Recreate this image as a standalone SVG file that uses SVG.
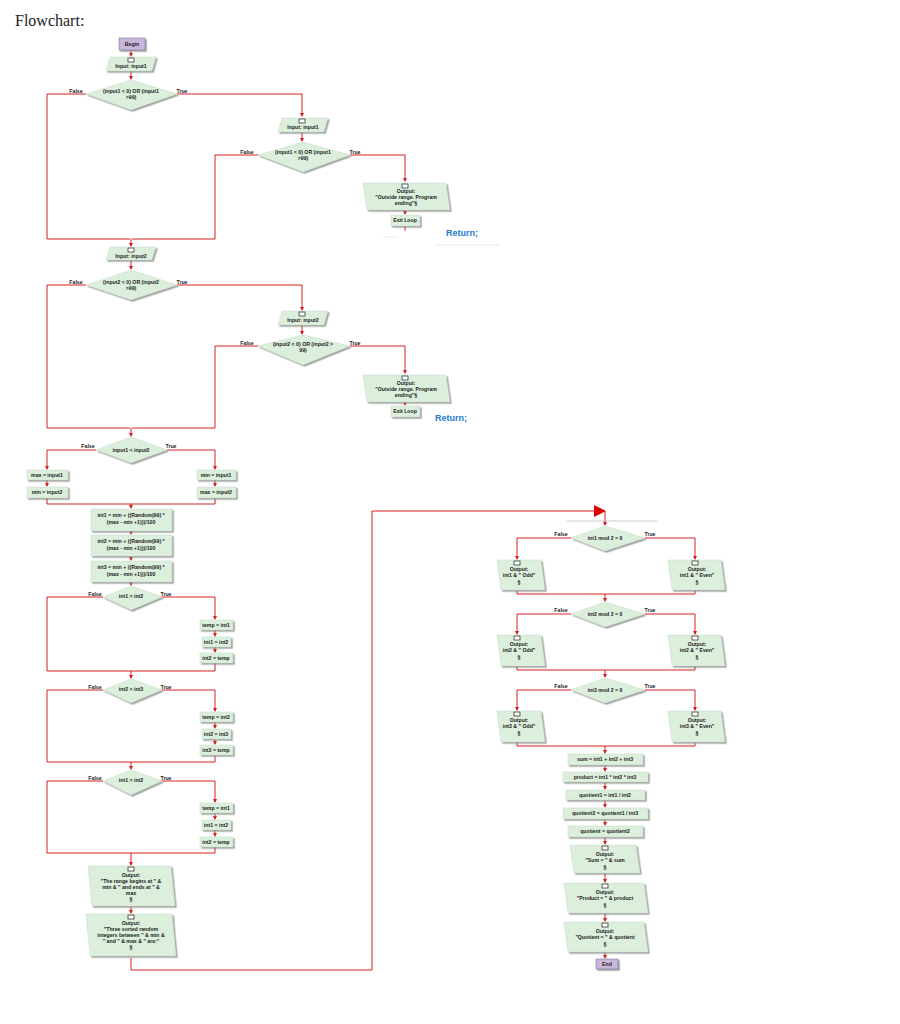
<svg xmlns="http://www.w3.org/2000/svg" width="900" height="1024" viewBox="0 0 900 1024">
<style>
.n{fill:#dcefdc;stroke:#c8d8c8;stroke-width:0.5;filter:url(#sh)}
.b{fill:#c9b6dd;stroke:#8a7aa8;stroke-width:0.6;filter:url(#sh)}
.io{fill:#fff;stroke:#222;stroke-width:0.7}
text{font-family:"Liberation Sans",Arial,sans-serif;font-size:5.2px;font-weight:bold;fill:#222;text-anchor:middle}
.l{text-anchor:start}
.c path,.c line,.c polyline{fill:none;stroke:#d42020;stroke-width:1}
.ret{fill:#1e7ad6;font-size:9px;text-anchor:start}
</style>
<defs>
<filter id="sh" x="-20%" y="-20%" width="150%" height="160%"><feDropShadow dx="1.5" dy="1.5" stdDeviation="0.6" flood-color="#888" flood-opacity="0.8"/></filter>
<marker id="a" markerWidth="4" markerHeight="4" refX="3" refY="2" orient="auto" markerUnits="userSpaceOnUse"><path d="M0,0L4,2L0,4z" fill="#d42020"/></marker>
<marker id="big" markerWidth="12" markerHeight="12" refX="10" refY="6" orient="auto" markerUnits="userSpaceOnUse"><path d="M0,0L12,6L0,12z" fill="#e00000"/></marker>
</defs>
<rect width="900" height="1024" fill="#fff"/>
<text x="15" y="26" class="l" style="font-family:'Liberation Serif',serif;font-size:16px;font-weight:normal">Flowchart:</text>

<g class="c">
<polyline points="131,50 131,56" marker-end="url(#a)"/>
<polyline points="131,71 131,79" marker-end="url(#a)"/>
<polyline points="86,94 47,94 47,239 130,239" />
<polyline points="177,94 302,94 302,116" marker-end="url(#a)"/>
<polyline points="302,132 302,141" marker-end="url(#a)"/>
<polyline points="258,155 215,155 215,239 132,239"/>
<polyline points="350,155 405,155 405,181" marker-end="url(#a)"/>
<polyline points="405,210 405,214" marker-end="url(#a)"/>
<line x1="405" y1="226" x2="405" y2="231"/>
<polyline points="131,239 131,246" marker-end="url(#a)"/>
<polyline points="131,260 131,269" marker-end="url(#a)"/>
<polyline points="86,285 47,285 47,428 130,428"/>
<polyline points="177,285 302,285 302,310" marker-end="url(#a)"/>
<polyline points="302,325 302,334" marker-end="url(#a)"/>
<polyline points="258,346 215,346 215,428 132,428"/>
<polyline points="350,346 405,346 405,373" marker-end="url(#a)"/>
<polyline points="405,402 405,405" marker-end="url(#a)"/>
<polyline points="131,428 131,436" marker-end="url(#a)"/>
<polyline points="96,450 47,450 47,469" marker-end="url(#a)"/>
<polyline points="167,450 215,450 215,469" marker-end="url(#a)"/>
<polyline points="47,480 47,486" marker-end="url(#a)"/>
<polyline points="215,480 215,486" marker-end="url(#a)"/>
<polyline points="47,498 47,504 215,504 215,498"/>
<polyline points="131,504 131,508" marker-end="url(#a)"/>
<polyline points="131,531 131,534" marker-end="url(#a)"/>
<polyline points="131,556 131,560" marker-end="url(#a)"/>
<polyline points="131,582 131,585" marker-end="url(#a)"/>
<polyline points="103,597 47,597 47,671 215,671 215,663"/>
<polyline points="162,597 215,597 215,619" marker-end="url(#a)"/>
<polyline points="215,630 215,636" marker-end="url(#a)"/>
<polyline points="215,647 215,652" marker-end="url(#a)"/>
<polyline points="131,671 131,678" marker-end="url(#a)"/>
<polyline points="103,690 47,690 47,762 215,762 215,755"/>
<polyline points="162,690 215,690 215,711" marker-end="url(#a)"/>
<polyline points="215,722 215,728" marker-end="url(#a)"/>
<polyline points="215,739 215,744" marker-end="url(#a)"/>
<polyline points="131,762 131,769" marker-end="url(#a)"/>
<polyline points="103,781 47,781 47,853 215,853 215,847"/>
<polyline points="162,781 215,781 215,802" marker-end="url(#a)"/>
<polyline points="215,813 215,819" marker-end="url(#a)"/>
<polyline points="215,830 215,836" marker-end="url(#a)"/>
<polyline points="131,853 131,865" marker-end="url(#a)"/>
<polyline points="131,905 131,913" marker-end="url(#a)"/>
<polyline points="131,958 131,970 372,970 372,511 604,511" marker-end="url(#big)"/>
<polyline points="605,511 605,525" marker-end="url(#a)"/>
<polyline points="571,538 517,538 517,559" marker-end="url(#a)"/>
<polyline points="645,538 695,538 695,559" marker-end="url(#a)"/>
<polyline points="517,590 517,594 695,594 695,590"/>
<polyline points="605,594 605,601" marker-end="url(#a)"/>
<polyline points="571,614 517,614 517,634" marker-end="url(#a)"/>
<polyline points="645,614 695,614 695,634" marker-end="url(#a)"/>
<polyline points="517,666 517,670 695,670 695,666"/>
<polyline points="605,670 605,677" marker-end="url(#a)"/>
<polyline points="571,690 517,690 517,710" marker-end="url(#a)"/>
<polyline points="645,690 695,690 695,710" marker-end="url(#a)"/>
<polyline points="517,742 517,746 695,746 695,742"/>
<polyline points="605,746 605,753" marker-end="url(#a)"/>
<polyline points="605,765 605,771" marker-end="url(#a)"/>
<polyline points="605,782 605,789" marker-end="url(#a)"/>
<polyline points="605,800 605,807" marker-end="url(#a)"/>
<polyline points="605,819 605,825" marker-end="url(#a)"/>
<polyline points="605,837 605,844" marker-end="url(#a)"/>
<polyline points="605,873 605,882" marker-end="url(#a)"/>
<polyline points="605,913 605,921" marker-end="url(#a)"/>
<polyline points="605,952 605,958" marker-end="url(#a)"/>
</g>
<line x1="567" y1="521" x2="657" y2="521" stroke="#aaa" stroke-width="0.6"/>
<line x1="383" y1="237" x2="398" y2="237" stroke="#ddd" stroke-width="0.6"/>
<line x1="435" y1="245" x2="500" y2="245" stroke="#ddd" stroke-width="0.6"/>

<g id="begin"><rect class="b" x="119" y="38" width="26" height="12"/><text x="132" y="46">Begin</text></g>
<g id="in1"><polygon class="n" points="110,57 156,57 152,71 106,71"/><rect class="io" x="128" y="58" width="6" height="4"/><text x="131" y="68">Input: input1</text></g>
<g id="d1"><polygon class="n" points="131,80 177,94 131,110 86,94"/><text x="131" y="93">(input1 &lt; 0) OR (input1</text><text x="131" y="99">&gt;99)</text><text x="76" y="93">False</text><text x="182" y="93">True</text></g>
<g id="in1b"><polygon class="n" points="282,118 328,118 324,132 278,132"/><rect class="io" x="299" y="119" width="6" height="4"/><text x="303" y="129">Input: input1</text></g>
<g id="d2"><polygon class="n" points="303,142 350,155 303,172 258,155"/><text x="303" y="154">(input1 &lt; 0) OR (input1</text><text x="303" y="160">&gt;99)</text><text x="247" y="154">False</text><text x="355" y="154">True</text></g>
<g id="out1"><polygon class="n" points="363,183 446,183 450,210 367,210"/><rect class="io" x="402" y="184" width="6" height="4"/><text x="406" y="193">Output:</text><text x="406" y="199">"Outside range.  Program</text><text x="406" y="205">ending"§</text></g>
<g id="exit1"><rect class="n" x="391" y="215" width="29" height="11"/><text x="405" y="222">Exit Loop</text></g>
<text x="446" y="236" class="ret">Return;</text>

<g id="in2"><polygon class="n" points="110,247 156,247 152,260 106,260"/><rect class="io" x="128" y="248" width="6" height="4"/><text x="131" y="258">Input: input2</text></g>
<g id="d3"><polygon class="n" points="131,270 177,285 131,300 86,285"/><text x="131" y="284">(input2 &lt; 0) OR (input2</text><text x="131" y="290">&gt;99)</text><text x="76" y="284">False</text><text x="182" y="284">True</text></g>
<g id="in2b"><polygon class="n" points="282,311 328,311 324,325 278,325"/><rect class="io" x="299" y="312" width="6" height="4"/><text x="303" y="322">Input: input2</text></g>
<g id="d4"><polygon class="n" points="303,335 350,346 303,365 258,346"/><text x="303" y="346">(input2 &lt; 0) OR (input2 &gt;</text><text x="303" y="352">99)</text><text x="247" y="345">False</text><text x="355" y="345">True</text></g>
<g id="out2"><polygon class="n" points="363,375 446,375 450,402 367,402"/><rect class="io" x="402" y="376" width="6" height="4"/><text x="406" y="385">Output:</text><text x="406" y="391">"Outside range.  Program</text><text x="406" y="397">ending"§</text></g>
<g id="exit2"><rect class="n" x="391" y="406" width="29" height="11"/><text x="405" y="413">Exit Loop</text></g>
<text x="435" y="421" class="ret">Return;</text>

<g id="d5"><polygon class="n" points="131,437 167,450 131,463 96,450"/><text x="131" y="452">input1 &lt; input2</text><text x="88" y="448">False</text><text x="171" y="448">True</text></g>
<g id="mx1"><rect class="n" x="27" y="470" width="41" height="10"/><text x="47" y="477">max = input1</text></g>
<g id="mn1"><rect class="n" x="27" y="487" width="41" height="11"/><text x="47" y="494">min = input2</text></g>
<g id="mn2"><rect class="n" x="197" y="470" width="39" height="10"/><text x="216" y="477">min = input1</text></g>
<g id="mx2"><rect class="n" x="197" y="487" width="39" height="11"/><text x="216" y="494">max = input2</text></g>
<g id="i1"><rect class="n" x="91" y="509" width="81" height="22"/><text x="131" y="517">int1 = min + ((Random(99) *</text><text x="131" y="524">(max - min +1)))/100</text></g>
<g id="i2"><rect class="n" x="91" y="535" width="81" height="21"/><text x="131" y="543">int2 = min + ((Random(99) *</text><text x="131" y="550">(max - min +1)))/100</text></g>
<g id="i3"><rect class="n" x="91" y="561" width="81" height="21"/><text x="131" y="569">int3 = min + ((Random(99) *</text><text x="131" y="576">(max - min +1)))/100</text></g>

<g id="d6"><polygon class="n" points="131,586 162,597 131,610 103,597"/><text x="131" y="598">int1 &gt; int2</text><text x="95" y="596">False</text><text x="166" y="596">True</text></g>
<g id="s1"><rect class="n" x="200" y="620" width="33" height="10"/><text x="216" y="627">temp = int1</text></g>
<g id="s2"><rect class="n" x="202" y="637" width="29" height="10"/><text x="216" y="644">int1 = int2</text></g>
<g id="s3"><rect class="n" x="200" y="653" width="33" height="10"/><text x="216" y="660">int2 = temp</text></g>
<g id="d7"><polygon class="n" points="131,679 162,690 131,703 103,690"/><text x="131" y="691">int2 &gt; int3</text><text x="95" y="689">False</text><text x="166" y="689">True</text></g>
<g id="s4"><rect class="n" x="200" y="712" width="33" height="10"/><text x="216" y="719">temp = int2</text></g>
<g id="s5"><rect class="n" x="202" y="729" width="29" height="10"/><text x="216" y="736">int2 = int3</text></g>
<g id="s6"><rect class="n" x="200" y="745" width="33" height="10"/><text x="216" y="752">int3 = temp</text></g>
<g id="d8"><polygon class="n" points="131,770 162,781 131,795 103,781"/><text x="131" y="782">int1 &gt; int2</text><text x="95" y="780">False</text><text x="166" y="780">True</text></g>
<g id="s7"><rect class="n" x="200" y="803" width="33" height="10"/><text x="216" y="810">temp = int1</text></g>
<g id="s8"><rect class="n" x="202" y="820" width="29" height="10"/><text x="216" y="827">int1 = int2</text></g>
<g id="s9"><rect class="n" x="200" y="837" width="33" height="10"/><text x="216" y="844">int2 = temp</text></g>
<g id="o1"><polygon class="n" points="88,866 171,866 175,906 92,906"/><rect class="io" x="128" y="867" width="6" height="4"/><text x="131" y="877">Output:</text><text x="131" y="883">"The range begins at " &amp;</text><text x="131" y="889">min &amp; " and ends at " &amp;</text><text x="131" y="895">max</text><text x="131" y="901">§</text></g>
<g id="o2"><polygon class="n" points="86,914 172,914 176,956 90,956"/><rect class="io" x="128" y="915" width="6" height="4"/><text x="131" y="925">Output:</text><text x="131" y="931">"Three sorted random</text><text x="131" y="937">integers between " &amp; min &amp;</text><text x="131" y="943">" and " &amp; max &amp; " are:"</text><text x="131" y="949">§</text></g>

<g id="m1"><polygon class="n" points="605,526 645,538 605,551 571,538"/><text x="605" y="540">int1 mod  2 = 0</text><text x="561" y="536">False</text><text x="650" y="536">True</text></g>
<g id="m1f"><polygon class="n" points="497,560 541,560 545,590 501,590"/><rect class="io" x="514" y="561" width="6" height="4"/><text x="519" y="571">Output:</text><text x="519" y="577">int1 &amp; " Odd"</text><text x="519" y="584">§</text></g>
<g id="m1t"><polygon class="n" points="668,560 721,560 725,590 672,590"/><rect class="io" x="692" y="561" width="6" height="4"/><text x="697" y="571">Output:</text><text x="697" y="577">int1 &amp; " Even"</text><text x="697" y="584">§</text></g>
<g id="m2"><polygon class="n" points="605,602 645,614 605,627 571,614"/><text x="605" y="616">int2 mod 2 = 0</text><text x="561" y="612">False</text><text x="650" y="612">True</text></g>
<g id="m2f"><polygon class="n" points="497,635 541,635 545,666 501,666"/><rect class="io" x="514" y="636" width="6" height="4"/><text x="519" y="646">Output:</text><text x="519" y="652">int2 &amp; " Odd"</text><text x="519" y="659">§</text></g>
<g id="m2t"><polygon class="n" points="668,635 721,635 725,666 672,666"/><rect class="io" x="692" y="636" width="6" height="4"/><text x="697" y="646">Output:</text><text x="697" y="652">int2 &amp; " Even"</text><text x="697" y="659">§</text></g>
<g id="m3"><polygon class="n" points="605,678 645,690 605,703 571,690"/><text x="605" y="692">int3 mod 2 = 0</text><text x="561" y="688">False</text><text x="650" y="688">True</text></g>
<g id="m3f"><polygon class="n" points="497,711 541,711 545,742 501,742"/><rect class="io" x="514" y="712" width="6" height="4"/><text x="519" y="722">Output:</text><text x="519" y="728">int3 &amp; " Odd"</text><text x="519" y="735">§</text></g>
<g id="m3t"><polygon class="n" points="668,711 721,711 725,742 672,742"/><rect class="io" x="692" y="712" width="6" height="4"/><text x="697" y="722">Output:</text><text x="697" y="728">int3 &amp; " Even"</text><text x="697" y="735">§</text></g>
<g id="sum"><rect class="n" x="568" y="754" width="75" height="11"/><text x="605" y="761">sum = int1 + int2 + int3</text></g>
<g id="prod"><rect class="n" x="563" y="772" width="85" height="10"/><text x="605" y="779">product = int1 * int2 * int3</text></g>
<g id="q1"><rect class="n" x="566" y="790" width="79" height="10"/><text x="605" y="797">quotient1 = int1 / int2</text></g>
<g id="q2"><rect class="n" x="563" y="808" width="85" height="11"/><text x="605" y="815">quotient2 = quotient1 / int3</text></g>
<g id="q"><rect class="n" x="568" y="826" width="75" height="11"/><text x="605" y="833">quotient = quotient2</text></g>
<g id="os"><polygon class="n" points="570,845 636,845 640,873 574,873"/><rect class="io" x="602" y="846" width="6" height="4"/><text x="605" y="856">Output:</text><text x="605" y="862">"Sum = " &amp; sum</text><text x="605" y="869">§</text></g>
<g id="op"><polygon class="n" points="564,883 644,883 648,913 568,913"/><rect class="io" x="602" y="884" width="6" height="4"/><text x="605" y="894">Output:</text><text x="605" y="900">"Product = " &amp; product</text><text x="605" y="907">§</text></g>
<g id="oq"><polygon class="n" points="564,922 644,922 648,952 568,952"/><rect class="io" x="602" y="923" width="6" height="4"/><text x="605" y="933">Output:</text><text x="605" y="939">"Quotient = " &amp; quotient</text><text x="605" y="946">§</text></g>
<g id="end"><rect class="b" x="596" y="959" width="22" height="10"/><text x="607" y="966">End</text></g>
</svg>
